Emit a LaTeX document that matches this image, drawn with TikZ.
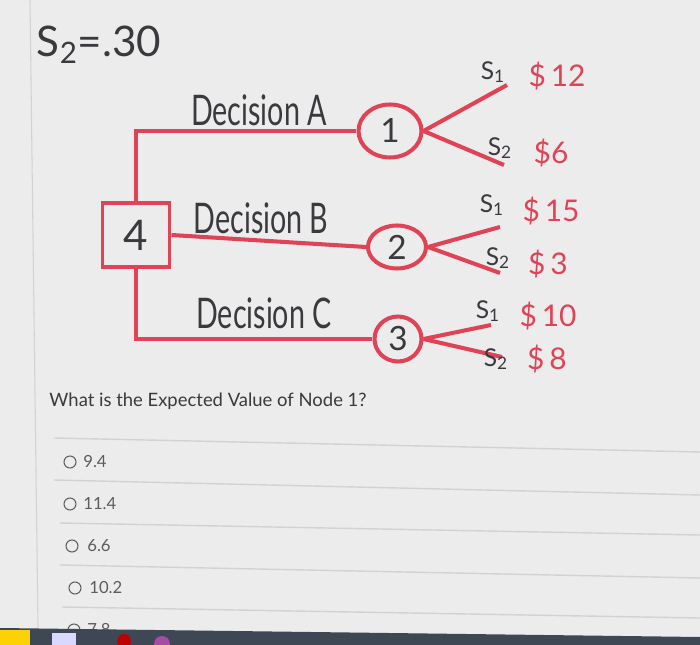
\documentclass[tikz,border=0pt]{standalone}
\usepackage{fontspec}
\setmainfont{Lato}
\newfontfamily\handfont[FakeStretch=0.68]{Lato}
\usetikzlibrary{shapes.geometric, positioning}
\definecolor{inkred}{RGB}{222,68,86}
\definecolor{inkgray}{RGB}{58,58,62}
\definecolor{paper}{RGB}{236,236,237}
\definecolor{rulegray}{RGB}{210,210,212}
\definecolor{optgray}{RGB}{92,92,96}
\definecolor{taskbar}{RGB}{62,72,84}
\tikzset{
        redline/.style={draw=inkred, line width=2.3pt},
        decbox/.style={rectangle, draw=inkred, line width=2.2pt, minimum width=1.34cm, minimum height=1.28cm, text=inkgray, font=\fontsize{24}{24}\selectfont},
        chance/.style={ellipse, draw=inkred, line width=2.3pt, inner sep=0pt, text=inkgray, font=\fontsize{19}{19}\selectfont},
        handlabel/.style={text=inkgray, font=\handfont\fontsize{24}{24}\selectfont, inner sep=0pt},
        statelabel/.style={text=inkgray, font=\fontsize{14}{14}\selectfont, inner sep=0pt},
        payoff/.style={text=inkred, font=\fontsize{17}{17}\selectfont, inner sep=0pt},
        choice/.style={circle, draw=optgray, line width=0.6pt, minimum size=0.24cm, inner sep=0pt},
        choicetext/.style={text=optgray, font=\fontsize{9.5}{11}\selectfont, inner sep=0pt, anchor=west},
        rule/.style={draw=rulegray, line width=0.8pt},
    }
\begin{document}
\begin{tikzpicture}[x=0.02cm, y=-0.02cm]
        % PAPER
        \fill[paper] (0,0) rectangle (700,645);
        \useasboundingbox (0,0) rectangle (700,645);
        \draw[rulegray, line width=0.6pt] (30,0) -- (38,628);

        % PROBABILITY
        \node[text=inkgray, font=\fontsize{24}{24}\selectfont, inner sep=0pt] (prob) at (99,45) {S\textsubscript{2}=.30};

        % DECISION NODE
        \node[decbox] (dec) at (136,235) {4};

        % CHANCE NODES
        \node[chance, minimum width=1.26cm, minimum height=1.06cm] (c1) at (390,131) {1};
        \node[chance, minimum width=1.16cm, minimum height=0.86cm] (c2) at (397,247) {2};
        \node[chance, minimum width=0.94cm, minimum height=0.9cm] (c3) at (398,339) {3};

        % Decision labels
        \node[handlabel] (da) at (259,110) {Decision A};
        \node[handlabel] (db) at (261,218) {Decision B};
        \node[handlabel] (dc) at (264,313) {Decision C};

        % Branches
        \draw[redline] (dec.north) |- (c1.west);
        \draw[redline] (dec.east) -- (c2.west);
        \draw[redline] (dec.south) |- (c3.west);

        \coordinate (e1a) at (507,85);
        \coordinate (e2a) at (504,165);
        \coordinate (e1b) at (500,227);
        \coordinate (e2b) at (500,273);
        \coordinate (e1c) at (491,325);
        \coordinate (e2c) at (502,357);
        \draw[redline] (c1.east) -- (e1a);
        \draw[redline] (c1.east) -- (e2a);
        \draw[redline] (c2.east) -- (e1b);
        \draw[redline] (c2.east) -- (e2b);
        \draw[redline] (c3.east) -- (e1c);
        \draw[redline] (c3.east) -- (e2c);

        % States and payoffs
        \node[statelabel] (s1a) at (493,72) {S\textsubscript{1}};
        \node[payoff] (p1a) at (557,76) {\$\,12};
        \node[statelabel] (s2a) at (500,148) {S\textsubscript{2}};
        \node[payoff] (p2a) at (551,153) {\$6};
        \node[statelabel] (s1b) at (492,205) {S\textsubscript{1}};
        \node[payoff] (p1b) at (551,211) {\$\,15};
        \node[statelabel] (s2b) at (498,258) {S\textsubscript{2}};
        \node[payoff] (p2b) at (548,264) {\$\,3};
        \node[statelabel] (s1c) at (488,311) {S\textsubscript{1}};
        \node[payoff] (p1c) at (548,316) {\$\,10};
        \node[statelabel] (s2c) at (496,359) {S\textsubscript{2}};
        \node[payoff] (p2c) at (547,359) {\$\,8};

        % QUESTION
        \node[text=inkgray, font=\fontsize{10.5}{12}\selectfont, inner sep=0pt] (quest) at (208,401) {What is the Expected Value of Node 1?};

        \draw[rule] (54,438) -- (700,452);
        \draw[rule] (54,480) -- (700,495);
        \draw[rule] (60,523) -- (700,535);
        \draw[rule] (60,565) -- (700,578);
        \draw[rule] (62,607) -- (700,618);

        \node[choice] (o1) at (70,462) {};
        \node[choicetext] (t1) at (83,462) {9.4};
        \node[choice] (o2) at (70,504) {};
        \node[choicetext] (t2) at (83,504) {11.4};
        \node[choice] (o3) at (72,546) {};
        \node[choicetext] (t3) at (87,546) {6.6};
        \node[choice] (o4) at (75,588) {};
        \node[choicetext] (t4) at (89,588) {10.2};
        \node[choice] (o5) at (74,630) {};
        \node[choicetext] (t5) at (87,630) {7.8};

        % TASKBAR
        \fill[taskbar] (0,628) -- (700,637) -- (700,645) -- (0,645) -- cycle;
        \fill[yellow!70!orange] (0,630) rectangle (30,645);
        \fill[white!85!blue] (52,633) rectangle (76,645);
        \fill[red!75!black] (124,641) circle (7);
        \fill[violet!70] (162,644) circle (8);
\end{tikzpicture}
\end{document}
